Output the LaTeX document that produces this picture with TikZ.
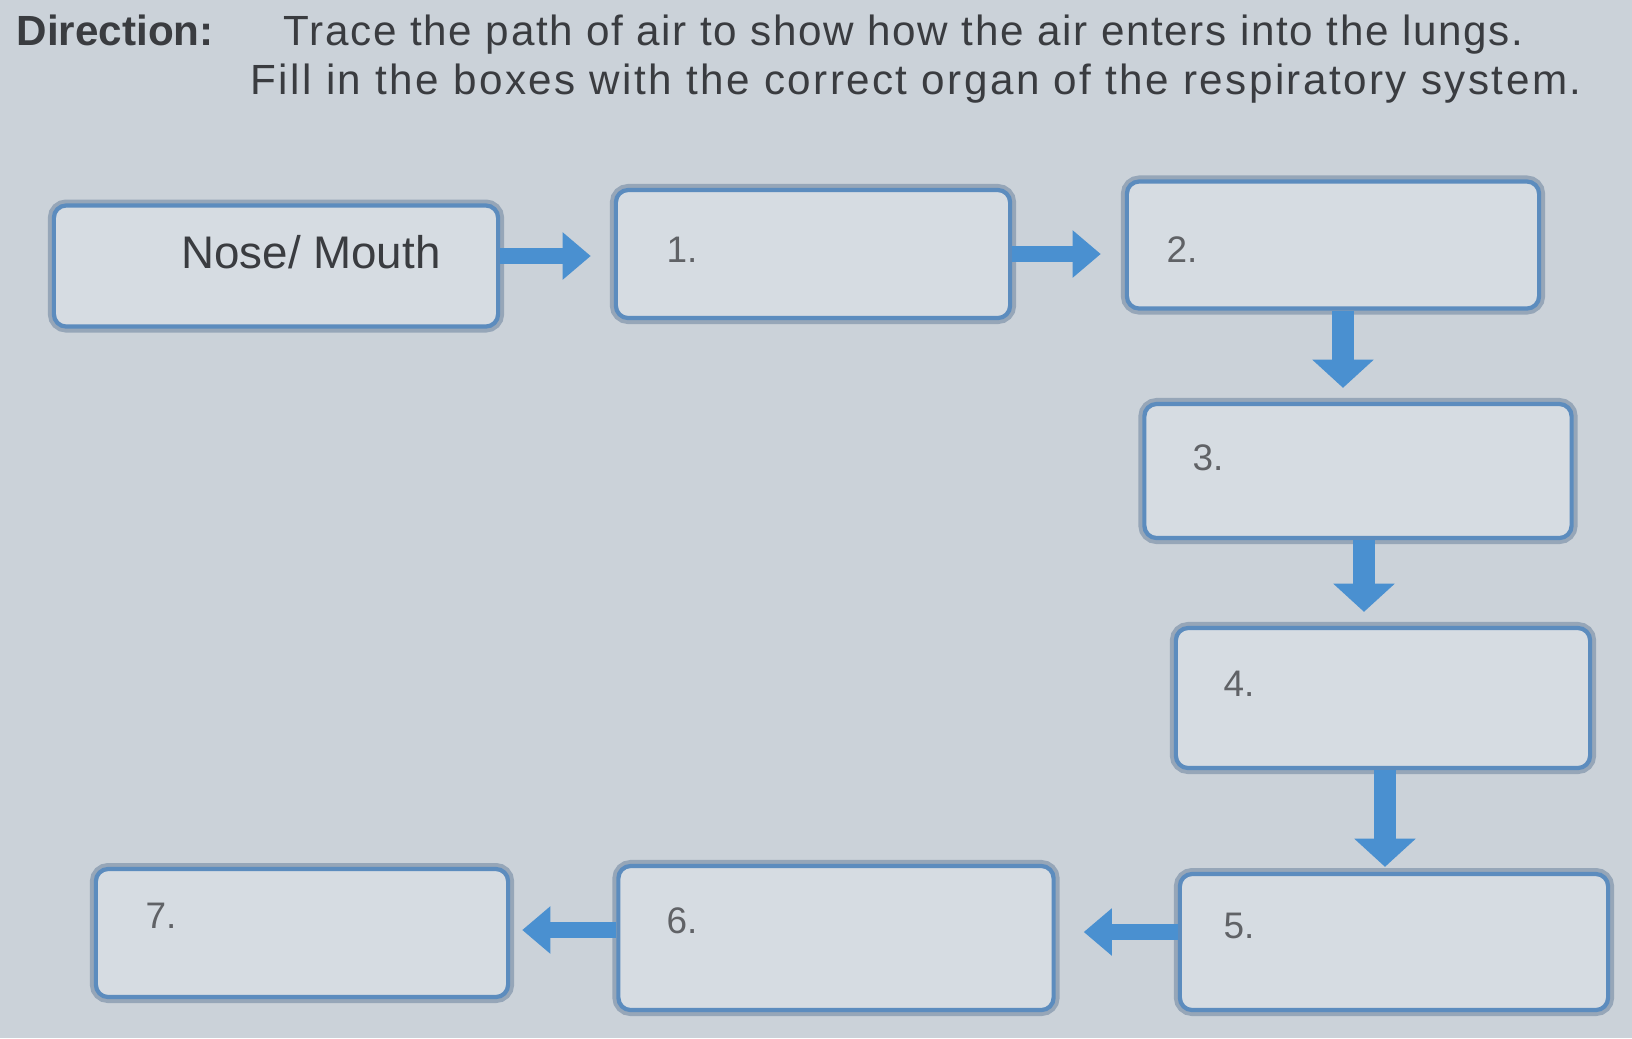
\documentclass[tikz,border=0pt]{standalone}
\usepackage{fontspec}
\setmainfont{Liberation Sans}
\newfontfamily\spacedfont[LetterSpace=4.0]{Liberation Sans}
\newfontfamily\widefont[LetterSpace=5.8]{Liberation Sans}
\usetikzlibrary{arrows.meta}
\definecolor{bgcol}{RGB}{203,210,217}
\definecolor{boxfill}{RGB}{214,220,226}
\definecolor{boxshade}{RGB}{150,166,184}
\definecolor{boxline}{RGB}{92,140,190}
\definecolor{flowblue}{RGB}{74,144,208}
\definecolor{inkgray}{RGB}{58,60,64}
\definecolor{numgray}{RGB}{96,98,102}

\begin{document}
\begin{tikzpicture}[x=0.01cm,y=-0.01cm,
    organbox/.style={draw=boxline,fill=boxfill,line width=1.2pt,rounded corners=3.5pt,
        preaction={draw=boxshade,line width=3.4pt},inner sep=0pt},
    numlabel/.style={text=numgray,font=\fontsize{10.5}{12}\selectfont},
    flowright/.style={draw=flowblue,line width=4.4pt,-{Triangle[width=13pt,length=8pt]}},
    flowdown/.style={draw=flowblue,line width=6.4pt,-{Triangle[width=17pt,length=8pt]}}]
        \fill [bgcol] (0,0) rectangle (1632,1038);
        % instructions
        \node [anchor=west,inner sep=0pt,text=inkgray,font=\fontsize{12}{14}\selectfont] (dir1) at (16,35)
            {\textbf{Direction:}\hspace{20pt}{\spacedfont Trace the path of air to show how the air enters into the lungs.}};
        \node [anchor=west,inner sep=0pt,text=inkgray,font=\fontsize{12}{14}\selectfont\widefont] (dir2) at (250,84)
            {Fill in the boxes with the correct organ of the respiratory system.};
        % boxes
        \node [organbox,minimum width=4.44cm,minimum height=1.21cm] (nose) at (276,266) {};
        \node [organbox,minimum width=3.94cm,minimum height=1.28cm] (b1) at (813,254) {};
        \node [organbox,minimum width=4.12cm,minimum height=1.27cm] (b2) at (1333,245) {};
        \node [organbox,minimum width=4.27cm,minimum height=1.34cm] (b3) at (1358,471) {};
        \node [organbox,minimum width=4.14cm,minimum height=1.40cm] (b4) at (1383,698) {};
        \node [organbox,minimum width=4.28cm,minimum height=1.36cm] (b5) at (1394,942) {};
        \node [organbox,minimum width=4.35cm,minimum height=1.44cm] (b6) at (836,938) {};
        \node [organbox,minimum width=4.12cm,minimum height=1.28cm] (b7) at (302,933) {};
        % texts
        \node [text=inkgray,font=\fontsize{13}{15}\selectfont] (nosetext) at (311,252) {Nose/ Mouth};
        \node [numlabel] (n1) at (682,250) {1.};
        \node [numlabel] (n2) at (1182,250) {2.};
        \node [numlabel] (n3) at (1208,458) {3.};
        \node [numlabel] (n4) at (1239,684) {4.};
        \node [numlabel] (n5) at (1239,926) {5.};
        \node [numlabel] (n6) at (682,921) {6.};
        \node [numlabel] (n7) at (161,916) {7.};
        % arrows
        \draw [flowright,shorten >=0.23cm] ([yshift=0.1cm]nose.east) -- ([yshift=0.1cm]nose.east -| b1.west);
        \draw [flowright,shorten >=0.24cm] (b1.east) -- (b1.east -| b2.west);
        \draw [flowdown,shorten >=0.14cm] ([xshift=0.1cm]b2.south) -- ([xshift=0.1cm]b2.south |- b3.north);
        \draw [flowdown,shorten >=0.14cm] ([xshift=0.06cm]b3.south) -- ([xshift=0.06cm]b3.south |- b4.north);
        \draw [flowdown,shorten >=0.05cm] ([xshift=0.02cm]b4.south) -- ([xshift=0.02cm]b4.south |- b5.north);
        \draw [flowright,shorten >=0.28cm] ([yshift=0.1cm]b5.west) -- ([yshift=0.1cm]b5.west -| b6.east);
        \draw [flowright,shorten >=0.12cm] ([yshift=0.08cm]b6.west) -- ([yshift=0.08cm]b6.west -| b7.east);
\end{tikzpicture}
\end{document}
